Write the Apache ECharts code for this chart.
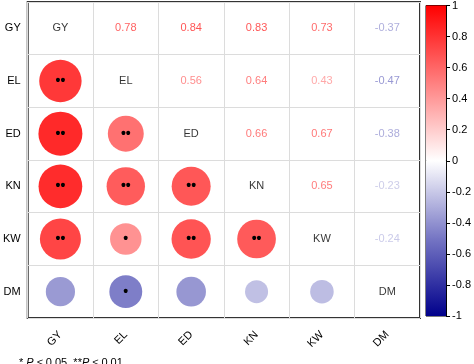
<!DOCTYPE html>
<html><head><meta charset="utf-8">
<script src="https://cdn.jsdelivr.net/npm/echarts@6/dist/echarts.min.js"></script>
<style>html,body{margin:0;padding:0;background:#fff}#c{width:474px;height:364px}</style>
</head><body><div id="c"></div>
<script>
const vars = ['GY','EL','ED','KN','KW','DM'];
const corrGY = [1.00, 0.78, 0.84, 0.83, 0.73, -0.37];
const corrEL = [0.78, 1.00, 0.56, 0.64, 0.43, -0.47];
const corrED = [0.84, 0.56, 1.00, 0.66, 0.67, -0.38];
const corrKN = [0.83, 0.64, 0.66, 1.00, 0.65, -0.23];
const corrKW = [0.73, 0.43, 0.67, 0.65, 1.00, -0.24];
const corrDM = [-0.37, -0.47, -0.38, -0.23, -0.24, 1.00];
const corr = [corrGY, corrEL, corrED, corrKN, corrKW, corrDM];
// significance (lower triangle): '' none, '*' P<=0.05, '**' P<=0.01
const sigGY = ['', '', '', '', '', ''];
const sigEL = ['**', '', '', '', '', ''];
const sigED = ['**', '**', '', '', '', ''];
const sigKN = ['**', '**', '**', '', '', ''];
const sigKW = ['**', '*', '**', '**', '', ''];
const sigDM = ['', '*', '', '', '', ''];
const sig = [sigGY, sigEL, sigED, sigKN, sigKW, sigDM];
const barTicks = [1, 0.8, 0.6, 0.4, 0.2, 0, -0.2, -0.4, -0.6, -0.8, -1];

const posStops = [[0,[255,255,255]],[0.5,[255,128,128]],[1,[255,0,0]]];
const negStops = [[0,[255,255,255]],[0.5,[118,118,196]],[1,[0,0,139]]];
function colorOf(v){
  const stops = v >= 0 ? posStops : negStops;
  const a = Math.min(1, Math.abs(v));
  for (let k=1;k<stops.length;k++){
    if (a <= stops[k][0]) {
      const t = (a - stops[k-1][0])/(stops[k][0]-stops[k-1][0]);
      const c = stops[k-1][1].map((x,i)=>Math.round(x + (stops[k][1][i]-x)*t));
      return 'rgb('+c.join(',')+')';
    }
  }
}
const circles = [], texts = [], diag = [];
for (let i=0;i<vars.length;i++){
  for (let j=0;j<vars.length;j++){
    const r = corr[i][j];
    if (i>j) circles.push({value:[j,i,r,sig[i][j]], itemStyle:{color:colorOf(r), opacity:1}});
    else if (i<j) texts.push({value:[j,i,r], label:{color:colorOf(r)}});
    else diag.push({value:[j,i,vars[i]]});
  }
}
const chart = echarts.init(document.getElementById('c'), null, {renderer:'canvas'});
const font = 'Arial, "Liberation Sans", sans-serif';
chart.setOption({
  animation:false,
  textStyle:{fontFamily:font},
  grid:[
    {left:21, top:2, width:399, height:316, show:true, borderColor:'#333', borderWidth:2, backgroundColor:'transparent'},
    {left:426, top:4, width:22, height:312, show:true, borderColor:'#000', borderWidth:1}
  ],
  xAxis:[
    {type:'category', data:vars, gridIndex:0, boundaryGap:true,
     axisLine:{show:false}, axisTick:{show:false},
     splitLine:{show:true, interval:0, lineStyle:{color:'#dcdcdc', width:1}},
     axisLabel:{rotate:45, margin:15, color:'#000', fontSize:11, fontFamily:font, interval:0}},
    {type:'category', data:[''], gridIndex:1, show:false}
  ],
  yAxis:[
    {type:'category', data:vars, gridIndex:0, inverse:true, boundaryGap:true,
     axisLine:{show:false}, axisTick:{show:false},
     splitLine:{show:true, interval:0, lineStyle:{color:'#dcdcdc', width:1}},
     axisLabel:{margin:7, color:'#000', fontSize:11, fontFamily:font, interval:0}},
    {type:'value', gridIndex:1, min:-1, max:1, interval:0.2, position:'right',
     axisLine:{show:true, lineStyle:{color:'#000'}},
     axisTick:{show:true, length:4, lineStyle:{color:'#000'}},
     splitLine:{show:false},
     axisLabel:{show:true, margin:6, color:'#000', fontSize:11, fontFamily:font,
       formatter:v=>{ const r=Math.round(v*10)/10; return barTicks.indexOf(r)>=0 ? String(r) : ''; }}}
  ],
  series:[
    {type:'scatter', xAxisIndex:0, yAxisIndex:0, data:circles,
     symbolSize:v=>48*Math.sqrt(Math.abs(v[2])),
     label:{show:true, position:'inside', color:'#000', fontSize:14, fontWeight:'bold',
       formatter:p=>p.value[3]==='**'?'••':(p.value[3]==='*'?'•':'')},
     z:2},
    {type:'scatter', xAxisIndex:0, yAxisIndex:0, data:texts, symbolSize:1,
     itemStyle:{color:'transparent'},
     label:{show:true, position:'inside', fontSize:11, fontFamily:font,
       formatter:p=>p.value[2].toFixed(2)}},
    {type:'scatter', xAxisIndex:0, yAxisIndex:0, data:diag, symbolSize:1,
     itemStyle:{color:'transparent'},
     label:{show:true, position:'inside', fontSize:11, color:'#000', fontFamily:font,
       formatter:p=>p.value[2]}},
    {type:'bar', xAxisIndex:1, yAxisIndex:1, data:[1], barWidth:'100%', barGap:'-100%', silent:true,
     itemStyle:{color:new echarts.graphic.LinearGradient(0,0,0,1,[
       {offset:0,color:'rgb(255,0,0)'},{offset:0.5,color:'rgb(255,128,128)'},{offset:1,color:'rgb(255,255,255)'}])}},
    {type:'bar', xAxisIndex:1, yAxisIndex:1, data:[-1], barWidth:'100%', barGap:'-100%', silent:true,
     itemStyle:{color:new echarts.graphic.LinearGradient(0,0,0,1,[
       {offset:0,color:'rgb(255,255,255)'},{offset:0.5,color:'rgb(118,118,196)'},{offset:1,color:'rgb(0,0,139)'}])}}
  ],
  graphic:[
    {type:'text', left:19, top:357, style:{
      text:'* {i|P} ≤ 0.05  **{i|P} ≤ 0.01', fill:'#000', fontSize:11, fontFamily:font,
      rich:{i:{fontStyle:'italic', fontSize:11, fontFamily:font, fill:'#000'}}}}
  ]
});
</script></body></html>
